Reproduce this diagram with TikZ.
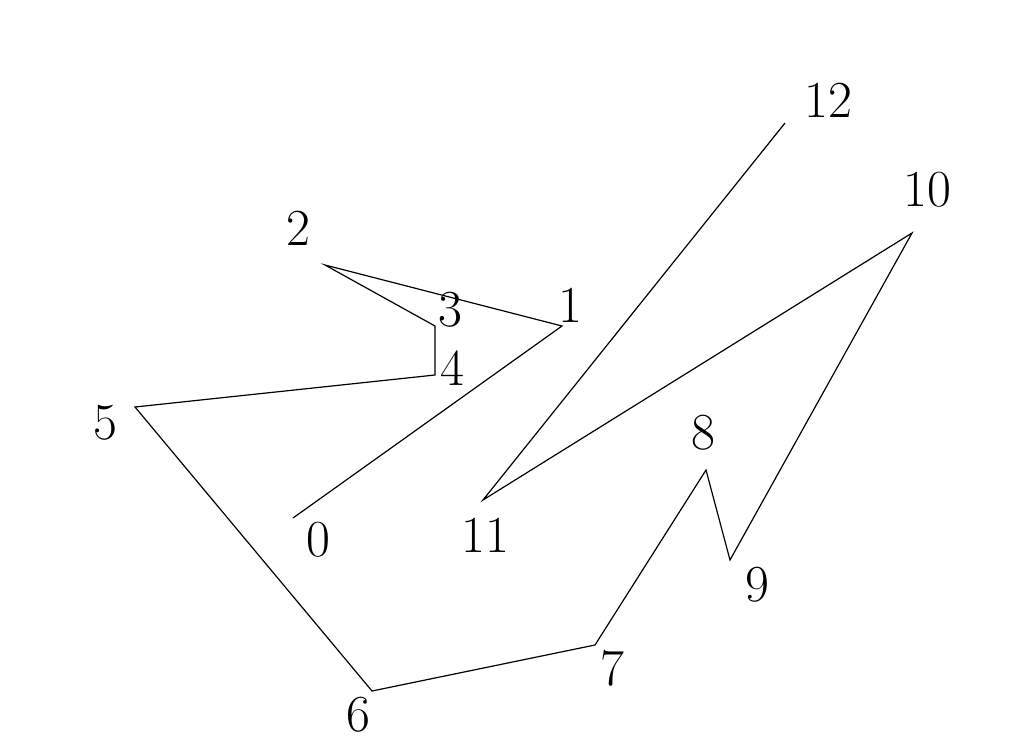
\documentclass[tikz,border=0pt]{standalone}
\begin{document}
\begin{tikzpicture}[x=0.75pt,y=-0.75pt,lbl/.style={font=\fontsize{39}{44}\selectfont,inner sep=0pt}]
\useasboundingbox (0,0) rectangle (1024,742);
\foreach \n/\x/\y in {0/293/518,1/562/326,2/325/265,3/435/326,4/435/375,5/135/407,6/372/691,7/595/645,8/706/470,9/730/560,10/912/233,11/483/500,12/785/123}
  \coordinate (p\n) at (\x,\y);
\draw[line width=0.9pt,line join=miter] (p0)--(p1)--(p2)--(p3)--(p4)--(p5)--(p6)--(p7)--(p8)--(p9)--(p10)--(p11)--(p12);
\foreach \n/\x/\y in {0/318/540,1/570/305,2/298/228,3/450/310,4/452/368,5/105/423,6/358/715,7/612/668,8/703/433,9/757/585,10/927/190,11/485/535,12/828/100}
  \node[lbl] (l\n) at (\x,\y) {\n};
\end{tikzpicture}
\end{document}
